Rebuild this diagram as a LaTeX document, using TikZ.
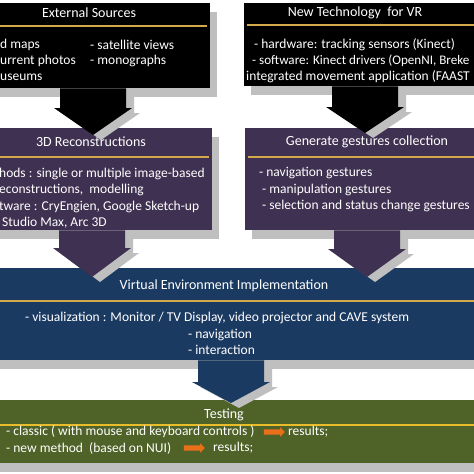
\documentclass[tikz,border=0pt]{standalone}
\usepackage{fontspec}
\setmainfont{Carlito}
\usetikzlibrary{shapes.arrows,shadows,calc}
\definecolor{purp}{HTML}{3F3151}
\definecolor{veblue}{HTML}{1B3A62}
\definecolor{tgreen}{HTML}{4F6228}
\definecolor{gold}{HTML}{D4A94C}
\definecolor{goldb}{HTML}{E8BC2A}
\definecolor{shgray}{HTML}{BFBFBF}
\definecolor{orng}{HTML}{E8701A}
\newcommand\bigarrow[6]{% #1 x centre, #2 from, #3 to, #4 colour, #5 head length, #6 overlap
  \fill[#4, ashadow] let \p1=(#2.south), \p2=(#3.north) in
    (#1pt-33pt,\y1) -- (#1pt+33pt,\y1) -- (#1pt+33pt,\y2-#6pt+#5pt) -- (#1pt+39pt,\y2-#6pt+#5pt)
    -- (#1pt,\y2-#6pt) -- (#1pt-39pt,\y2-#6pt+#5pt) -- (#1pt-33pt,\y2-#6pt+#5pt) -- cycle;}
\begin{document}
\begin{tikzpicture}[x=1pt,y=-1pt,
  box/.style={rectangle, inner sep=0pt, anchor=north west, draw=none,
    drop shadow={shadow xshift=7pt, shadow yshift=-9pt, opacity=1, fill=shgray}},
  ashadow/.style={drop shadow={shadow xshift=8pt, shadow yshift=-5pt, opacity=1, fill=shgray}},
  head/.style={text=white, font=\fontsize{14}{16}\selectfont, inner sep=0pt},
  body/.style={text=white, font=\fontsize{13.5}{16}\selectfont, inner sep=0pt, anchor=west},
  goldline/.style={draw=gold, line width=1.6pt},
  oarrow/.style={single arrow, fill=orng, draw=none, inner xsep=0pt, inner ysep=2.5pt,
    minimum height=21pt, single arrow head extend=2pt},
  ]
\useasboundingbox (0,0) rectangle (474,474);
\clip (0,0) rectangle (474,474);
\fill[white] (0,0) rectangle (474,474);

% boxes
\node[box, fill=black, minimum width=230pt, minimum height=85pt] (ext) at (-20,3) {};
\node[box, fill=black, minimum width=240pt, minimum height=83pt] (tech) at (244,3) {};
\node[box, fill=purp, minimum width=232pt, minimum height=102pt] (rec) at (-20,128) {};
\node[box, fill=purp, minimum width=240pt, minimum height=102pt] (ges) at (245,128) {};
\node[box, fill=veblue, minimum width=500pt, minimum height=92pt] (ve) at (-10,268) {};
\node[box, fill=tgreen, minimum width=500pt, minimum height=63pt] (test) at (-10,400) {};

% gold separators
\draw[goldline] ([yshift=-23pt]ext.north west) -- ([yshift=-23pt, xshift=-3pt]ext.north east);
\draw[goldline] ([yshift=-22pt, xshift=3pt]tech.north west) -- ([yshift=-22pt]tech.north east);
\draw[goldline] ([yshift=-29pt]rec.north west) -- ([yshift=-29pt, xshift=-3pt]rec.north east);
\draw[goldline] ([yshift=-29pt, xshift=3pt]ges.north west) -- ([yshift=-29pt]ges.north east);
\draw[goldline] ([yshift=-33pt]ve.north west) -- ([yshift=-33pt]ve.north east);
\draw[goldline, draw=goldb] ([yshift=-25pt]test.north west) -- ([yshift=-25pt]test.north east);

% block arrows
\bigarrow{93}{ext}{rec}{black}{27}{7}
\bigarrow{365}{tech}{ges}{black}{26}{5}
\bigarrow{92}{rec}{ve}{purp}{29}{9}
\bigarrow{367}{ges}{ve}{purp}{28}{9}
\bigarrow{231}{ve}{test}{veblue}{21}{3}

% headers
\node[head] (h1) at (89,13) {External Sources};
\node[head] (h2) at (355,13) {New Technology\ \ for VR};
\node[head] (h3) at (91,142) {3D Reconstructions};
\node[head] (h4) at (367,142) {Generate gestures collection};
\node[head] (h5) at (224,286) {Virtual Environment Implementation};
\node[head] (h6) at (224,415) {Testing};

% External Sources
\node[body] (e1) at (0,45) {d maps};
\node[body] (e2) at (0,61) {urrent photos};
\node[body] (e3) at (0,77) {useums};
\node[body] (e4) at (90,45) {- satellite views};
\node[body] (e5) at (90,61) {- monographs};

% New technology
\node[body] (t1) at (254,45) {- hardware: tracking sensors (Kinect)};
\node[body, font=\fontsize{13.1}{16}\selectfont] (t2) at (252,61) {- software: Kinect drivers (OpenNI, Breke};
\node[body] (t3) at (246,77) {integrated movement application (FAAST};

% 3D reconstructions
\node[body] (r1) at (-1,174) {hods : single or multiple image-based};
\node[body] (r2) at (-1,190) {econstructions,\ \ modelling};
\node[body] (r3) at (-1,207) {tware : CryEngien, Google Sketch-up};
\node[body] (r4) at (2,223) {Studio Max, Arc 3D};

% gestures
\node[body] (g1) at (259,173) {- navigation gestures};
\node[body] (g2) at (262,190) {- manipulation gestures};
\node[body] (g3) at (262,206) {- selection and status change gestures};

% virtual environment
\node[body] (v1) at (25,318) {- visualization : Monitor / TV Display, video projector and CAVE system};
\node[body] (v2) at (188,335) {- navigation};
\node[body] (v3) at (188,350) {- interaction};

% testing
\node[body] (c1) at (6,432) {- classic ( with mouse and keyboard controls )};
\node[oarrow] (oa1) at (273,432) {};
\node[body] (res1) at (288,432) {results;};
\node[body] (c2) at (6,448) {- new method\ \ (based on NUI)};
\node[oarrow] (oa2) at (193,448) {};
\node[body] (res2) at (213,448) {results;};
\end{tikzpicture}
\end{document}
